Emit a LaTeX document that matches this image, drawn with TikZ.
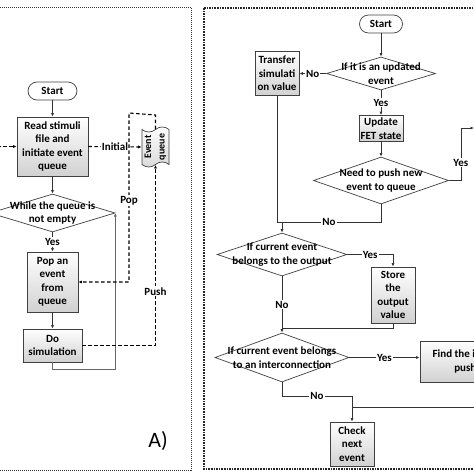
\documentclass[tikz,border=0pt]{standalone}
\usepackage{fontspec}
\setmainfont{Carlito}
\usetikzlibrary{shapes.geometric,shapes.symbols,arrows.meta,shadows}
\begin{document}
\begin{tikzpicture}[x=1pt,y=-1pt,
  font=\fontsize{11}{13.5}\selectfont\bfseries,
  proc/.style={draw=black!75, line width=0.7pt, top color=white, bottom color=black!18, align=center, inner sep=0pt,
    drop shadow={shadow xshift=0.8pt, shadow yshift=-0.8pt, opacity=0.35}},
  term/.style={draw=black!75, line width=0.7pt, fill=white, rounded corners=9pt, inner sep=0pt},
  dia/.style={diamond, draw=black!75, line width=0.7pt, fill=white, inner sep=0pt},
  txt/.style={align=center, inner sep=0pt},
  lbl/.style={fill=white, inner sep=1pt},
  conn/.style={draw=black!80, line width=0.7pt},
  arr/.style={conn, -{Latex[length=3.5pt,width=3pt]}},
  dashconn/.style={draw=black, line width=1.1pt, dash pattern=on 3.5pt off 2.5pt},
  dasharr/.style={dashconn, -{Latex[length=3.5pt,width=3pt]}},
]
\useasboundingbox (0,0) rectangle (474,474);
\clip (0,0) rectangle (474,474);

% panel borders
\draw[line width=1pt, densely dotted, black!80] (-5,7) rectangle (191,470);
\draw[line width=1.6pt, densely dotted, black!85] (204,8) rectangle (490,469);

% ---------- left panel ----------
\node[term, minimum width=49pt, minimum height=18pt] (s1) at (52.5,91) {Start};
\node[proc, minimum width=71pt, minimum height=59pt] (read) at (52.5,146.5) {Read stimuli\\file and\\initiate event\\queue};
\node[dia, minimum width=125pt, minimum height=38pt] (dq) at (52.5,213) {};
\node[txt] (dqt) at (dq.center) {While the queue is\\not empty};
\node[proc, minimum width=51pt, minimum height=60pt] (pop) at (52.5,282) {Pop an\\event\\from\\queue};
\node[proc, minimum width=59pt, minimum height=33pt] (sim) at (52.5,345.5) {Do\\simulation};
\node[tape, draw=black!75, line width=0.7pt, top color=white, bottom color=black!15,
  minimum width=27pt, minimum height=40pt, inner sep=0pt] (q) at (155.5,147) {};
\node[txt, rotate=90, font=\fontsize{10}{13.5}\selectfont\bfseries] (qt) at (q.center) {Event\\queue};
\node[font=\fontsize{22}{26}\selectfont] (lA) at (158,441) {A)};

\coordinate (inL) at (-3,146.5);

\draw[arr] (s1) -- (read);
\draw[arr] (read) -- (dq);
\draw[arr] (dq) -- node[lbl]{Yes} (pop);
\draw[arr] (pop) -- (sim);
\draw[arr, draw=black!60] (sim.south) -- ++(0,6.5) -| (dq.east);

\draw[dasharr] (inL) -- (read.west);
\draw[dasharr] (read.east) -- node[lbl]{Initial} (q.west);
\draw[dasharr] (q.north) -- ++(0,-14) -- (129,113) -- node[lbl,pos=0.52]{Pop} (129,282) -- (pop.east);
\draw[dasharr] (sim.east) -- (155.5,345.5) -- node[lbl,pos=0.3]{Push} (q.south);

% ---------- right panel ----------
\node[term, minimum width=43pt, minimum height=18pt] (s2) at (381,24) {Start};
\node[dia, minimum width=109pt, minimum height=33pt] (d1) at (381,73.5) {};
\node[txt] (d1t) at (d1.center) {If it is an updated\\event};
\node[proc, minimum width=44pt, minimum height=44pt] (tr) at (277,73.5) {Transfer\\simulati\\on value};
\node[proc, minimum width=44pt, minimum height=26pt] (up) at (381,128.5) {Update\\FET state};
\node[dia, minimum width=135pt, minimum height=47pt] (d2) at (381,180.5) {};
\node[txt] (d2t) at (d2.center) {Need to push new\\event to queue};
\node[dia, minimum width=130pt, minimum height=43pt] (d3) at (282,254.5) {};
\node[txt] (d3t) at (d3.center) {If current event\\belongs to the output};
\node[proc, minimum width=44pt, minimum height=56pt] (st) at (393,295) {Store\\the\\output\\value};
\node[dia, minimum width=134pt, minimum height=49pt] (d4) at (282,357.5) {};
\node[txt] (d4t) at (d4.center) {If current event belongs\\to an interconnection};
\node[proc, minimum width=134pt, minimum height=41pt] (fd) at (487,361.5) {Find the interconnected\\push to queue};
\node[proc, minimum width=44pt, minimum height=44pt] (ck) at (352,444) {Check\\next\\event};

\coordinate (yesR) at (474,128);
\coordinate (j1) at (277,222);
\coordinate (j2) at (282,222);
\coordinate (j3) at (282,328);
\coordinate (j5) at (352,407);

\draw[arr] (s2) -- (d1);
\draw[arr] (d1.west) -- node[lbl]{No} (tr.east);
\draw[arr] (d1) -- node[lbl]{Yes} (up);
\draw[arr] (up) -- (d2);
\draw[arr] (d2.east) -- ++(12,0) |- node[lbl,pos=0.17]{Yes} (yesR);
\draw[conn] (d2.south) |- node[lbl,pos=0.75]{No} (j1);
\draw[conn] (tr.south) -- (j1);
\draw[arr] (j2) -- (d3.north);
\draw[arr] (d3.east) -| node[lbl,pos=0.25]{Yes} (st.north);
\draw[conn] (st.south) |- (j3);
\draw[arr] (d3.south) -- node[lbl]{No} (d4.north);
\draw[arr] (d4.east) -- node[lbl]{Yes} (fd.west |- d4.east);
\draw[arr] (d4.south) -- ++(0,14) -| node[lbl,pos=0.25]{No} (ck.north);
\draw[conn] (fd.south) |- (j5);
\end{tikzpicture}
\end{document}
